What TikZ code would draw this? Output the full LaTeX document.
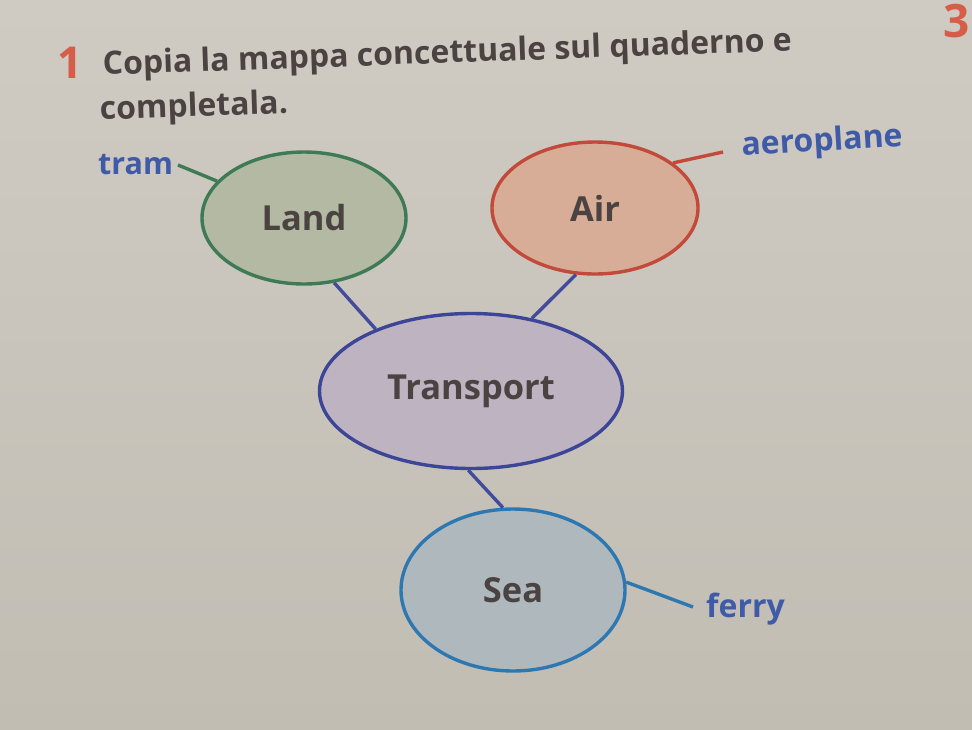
\documentclass[tikz,border=0pt]{standalone}
\usepackage{fontspec}
\setmainfont{Open Sans}
\usetikzlibrary{shapes.geometric}
\definecolor{paperTop}{HTML}{CFCBC3}
\definecolor{paperBot}{HTML}{C2BDB3}
\definecolor{inkDark}{HTML}{4B4342}
\definecolor{inkBlue}{HTML}{3F5BA8}
\definecolor{inkRed}{HTML}{D65E48}
\definecolor{landFill}{HTML}{B3B9A3}
\definecolor{landLine}{HTML}{3E7A55}
\definecolor{airFill}{HTML}{D8AD97}
\definecolor{airLine}{HTML}{C24A3A}
\definecolor{trFill}{HTML}{BDB3C1}
\definecolor{trLine}{HTML}{3D4596}
\definecolor{seaFill}{HTML}{AFB8BD}
\definecolor{seaLine}{HTML}{2E78B2}
\definecolor{linkBlue}{HTML}{434B9C}
\tikzset{
  bubble/.style={ellipse, inner sep=0pt, line width=3.4pt, font=\bfseries\fontsize{34.5}{38}\selectfont, text=inkDark},
  link/.style={line width=3.4pt},
  example/.style={font=\bfseries\fontsize{32}{35}\selectfont, text=inkBlue, inner sep=0pt},
  headline/.style={font=\bfseries\fontsize{32}{35}\selectfont, text=inkDark, inner sep=0pt, anchor=base west, rotate=2}
}
\begin{document}
\begin{tikzpicture}[x=1pt,y=-1pt]
\useasboundingbox (0,0) rectangle (972,729);
\shade[top color=paperTop, bottom color=paperBot] (0,0) rectangle (972,729);
% header
\node[font=\bfseries\fontsize{44}{46}\selectfont, text=inkRed, inner sep=0pt, anchor=base west] (num) at (57,78) {1};
\node[headline] (h1) at (103,75) {Copia la mappa concettuale sul quaderno e};
\node[headline] (h2) at (100,120) {completala.};
\node[font=\bfseries\fontsize{46}{48}\selectfont, text=inkRed, inner sep=0pt, anchor=base east] (page) at (970,37) {3};
% bubbles
\node[bubble, draw=landLine, fill=landFill, minimum width=204pt, minimum height=132pt] (land) at (304,218) {Land};
\node[bubble, draw=airLine, fill=airFill, minimum width=206pt, minimum height=132pt] (air) at (595,208) {Air};
\node[bubble, draw=trLine, fill=trFill, minimum width=303pt, minimum height=155pt] (transport) at (471,391) {Transport};
\node[bubble, draw=seaLine, fill=seaFill, minimum width=224pt, minimum height=162pt] (sea) at (513,590) {Sea};
% examples
\node[example, font=\bfseries\fontsize{30.5}{34}\selectfont, anchor=base west] (tram) at (98,174) {tram};
\node[example, anchor=base west, rotate=3.5] (aero) at (742,156) {aeroplane};
\node[example, anchor=base west] (ferry) at (706,617) {ferry};
\coordinate (tramEnd) at (178,165);
\coordinate (aeroEnd) at (723,152);
\coordinate (ferryEnd) at (693,607);
% connectors
\draw[link, landLine] (land.157) -- (tramEnd);
\draw[link, airLine] (air.30) -- (aeroEnd);
\draw[link, linkBlue] (land.-65) -- (transport.147);
\draw[link, linkBlue] (air.-106) -- (transport.50);
\draw[link, linkBlue] (transport.-92) -- (sea.97);
\draw[link, seaLine] (sea.4) -- (ferryEnd);
\end{tikzpicture}
\end{document}
